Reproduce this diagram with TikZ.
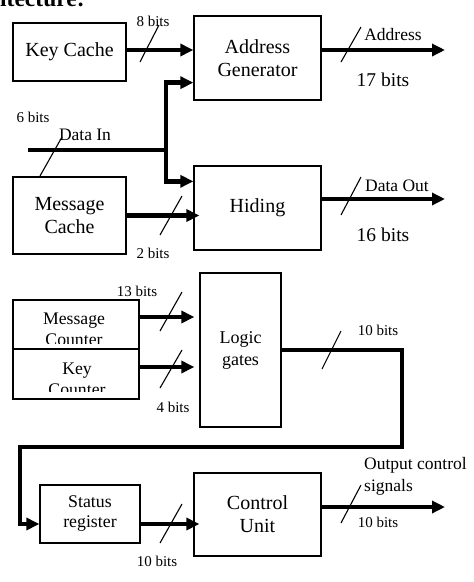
\documentclass[tikz,border=0pt]{standalone}
\usepackage{fontspec}
\setmainfont{Liberation Serif}
\usepackage{xcolor}
\usepackage{tikz}
\usetikzlibrary{arrows.meta,calc}
\definecolor{ink}  {HTML}{000000}
\definecolor{paper}{HTML}{FFFFFF}
\tikzset{
  blk/.style  = {draw=ink, line width=1.3pt, fill=paper, align=center,
                 inner sep=2pt, font=\fontsize{20}{23}\selectfont},
  bus/.style  = {-{Triangle[length=13pt, width=12pt]}, draw=ink, line width=4.5pt},
  wire/.style = {draw=ink, line width=4.5pt},
  tick/.style = {draw=ink, line width=1.1pt},
  lbl/.style  = {font=\fontsize{15}{17}\selectfont, text=ink, inner sep=0pt},
  mid/.style  = {font=\fontsize{17.5}{22}\selectfont, text=ink, inner sep=0pt, align=left},
  big/.style  = {font=\fontsize{19.5}{22}\selectfont, text=ink, inner sep=0pt},
  cnt/.style  = {font=\fontsize{17.7}{21}\selectfont, text=ink, inner sep=0pt, align=center},
  head/.style = {font=\fontsize{23.5}{26}\selectfont\bfseries, text=ink, inner sep=0pt},
}

\begin{document}
\begin{tikzpicture}[x=1pt, y=-1pt]
  \clip (0,0) rectangle (474,582);
  % heading, cut at the top edge
  \node[head, anchor=base west] (heading) at (0,6) {itecture:};

  % upper half
  \node[blk, minimum width=113pt, minimum height=58pt] (keycache) at (69.5,52) {Key Cache};
  \node[blk, minimum width=127pt, minimum height=84pt] (addrgen) at (257.5,58) {Address\\Generator};
  \node[blk, minimum width=113pt, minimum height=77pt] (msgcache) at (69.5,215.5) {Message\\Cache};
  \node[blk, minimum width=127pt, minimum height=84pt] (hiding) at (257.5,208) {Hiding};

  \coordinate (addrout) at (445,50);
  \coordinate (dataout) at (445,199);
  \coordinate (datain)  at (28,150);
  \coordinate (split)   at (166,150);

  \draw[bus] (keycache.east |- addrout) -- (addrgen.west |- addrout);
  \draw[bus] (addrgen.east |- addrout) -- (addrout);
  \draw[wire] (datain) -- (split);
  \draw[bus] (split) |- ([yshift=18pt]addrgen.south west);
  \draw[bus] (split) |- ([yshift=-16pt]hiding.north west);
  \draw[bus, shorten >=-6pt] (msgcache.east) -- (hiding.west |- msgcache.east);
  \draw[bus] (hiding.east |- dataout) -- (dataout);

  \node[lbl] (lkey)   at (153,21)  {8 bits};
  \node[mid] (laddr)  at (393,35)  {Address};
  \node[big] (laddrw) at (383,80)  {17 bits};
  \node[lbl] (lin)    at (33,117)  {6 bits};
  \node[mid] (ldin)   at (85,135)  {Data In};
  \node[lbl] (lmsg)   at (153,253) {2 bits};
  \node[mid] (ldout)  at (397,186) {Data Out};
  \node[big] (ldoutw) at (383,235) {16 bits};

  % lower half
  \node[blk, minimum width=126pt, minimum height=49pt] (msgcnt) at (76,324.5) {};
  \node[blk, minimum width=126pt, minimum height=50pt] (keycnt) at (76,374) {};
  \begin{scope}
    \clip (13,300) rectangle (139,343);
    \node[cnt, anchor=north] (msgcnttxt) at (74,313) {Message\\Counter};
  \end{scope}
  \begin{scope}
    \clip (13,350) rectangle (139,391);
    \node[cnt, anchor=north] (keycnttxt) at (77,363) {Key\\Counter};
  \end{scope}
  \node[blk, minimum width=81pt, minimum height=154pt,
        font=\fontsize{18}{22}\selectfont] (logic) at (240.5,350) {Logic\\gates};
  \node[blk, minimum width=100pt, minimum height=58pt,
        font=\fontsize{17.8}{20}\selectfont] (status) at (90,514) {Status\\register};
  \node[blk, minimum width=127pt, minimum height=83pt] (control) at (257.5,514.5) {Control\\Unit};

  \coordinate (mcin)    at (0,317);
  \coordinate (kcin)    at (0,367);
  \coordinate (loopa)   at (402,447);
  \coordinate (loopb)   at (20,447);
  \coordinate (statin)  at ([yshift=-10pt]status.west);
  \coordinate (statout) at ([yshift=-10pt]status.east);
  \coordinate (ctrlout) at (445,507);

  \draw[bus, shorten >=5pt] (msgcnt.east |- mcin) -- (logic.west |- mcin);
  \draw[bus, shorten >=5pt] (keycnt.east |- kcin) -- (logic.west |- kcin);
  \draw[bus] (logic.east) -| (loopa) -- (loopb) |- (statin);
  \draw[bus, shorten >=-6pt] (statout) -- (control.west |- statout);
  \draw[bus] (control.east |- ctrlout) -- (ctrlout);

  \node[lbl] (lmcnt)  at (137,291) {13 bits};
  \node[lbl] (lkcnt)  at (173,407) {4 bits};
  \node[lbl] (llogic) at (378,330) {10 bits};
  \node[lbl] (lstat)  at (157,561) {10 bits};
  \node[mid, anchor=west] (lctrl) at (364,476) {Output control\\signals};
  \node[lbl] (lctrlw) at (378,522) {10 bits};

  % bus width marks
  \foreach \ax/\ay/\bx/\by in {140/62/159/25, 341/62/361/27, 40/176/62/137,
      160/235/182/196, 341/215/361/177, 160/331/182/292, 160/388/182/350,
      322/369/341/331, 160/543/182/504, 341/523/361/485}
    \draw[tick] (\ax,\ay) -- (\bx,\by);
\end{tikzpicture}
\end{document}
